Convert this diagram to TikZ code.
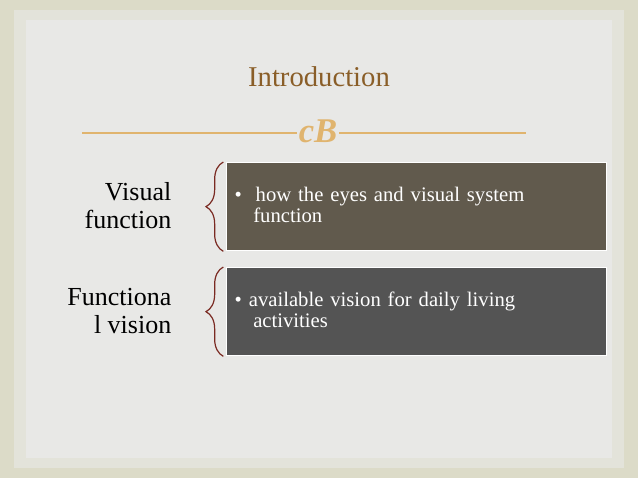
\documentclass[tikz,border=0pt]{standalone}
\usepackage{fontspec}
\setmainfont{Liberation Serif}
\usetikzlibrary{decorations.pathreplacing}
\definecolor{outer}{HTML}{DCDBC8}
\definecolor{inner}{HTML}{E8E8E6}
\definecolor{gold}{HTML}{E0B46E}
\definecolor{titlec}{HTML}{8A5E28}
\definecolor{boxa}{HTML}{615A4D}
\definecolor{boxb}{HTML}{545454}
\definecolor{brace}{HTML}{7A2A22}
\tikzset{
 cbox/.style={draw=white,line width=1pt,minimum width=380*0.75pt,minimum height=88*0.75pt,anchor=north west,inner sep=0pt},
 ctext/.style={text=white,font=\fontsize{15.5}{16}\selectfont,align=left,text width=370*0.75pt,anchor=north west},
 lab/.style={font=\fontsize{19.5}{21}\selectfont,align=right,anchor=east},
 br/.style={draw=brace,line width=0.9pt,decorate,decoration={brace,amplitude=13pt,mirror}}
}
\begin{document}
\begin{tikzpicture}[x=0.75pt,y=-0.75pt]
\useasboundingbox (0,0) rectangle (638,478);
\fill[outer] (0,0) rectangle (638,478);
\fill[inner!60!outer] (14,10) rectangle (624,468);
\fill[inner] (26,20) rectangle (612,458);
\node[text=titlec,font=\fontsize{21.5}{24}\selectfont] (title) at (319,77) {Introduction};
\coordinate (l1) at (82,133);
\coordinate (l2) at (526,133);
\draw[gold,line width=0.8pt] (l1) -- (l2);
\node[fill=inner,text=gold,font=\fontsize{26}{26}\selectfont\itshape\bfseries,inner sep=1pt] (orn) at (318,131) {cB};
\node[cbox,fill=boxa] (b1) at (226,162) {};
\node[cbox,fill=boxb] (b2) at (226,267) {};
\node[ctext] (t1) at (230,182) {•\ \ how the eyes and visual system\\\hspace*{0.9em}function};
\node[ctext] (t2) at (230,287) {• available vision for daily living\\\hspace*{0.9em}activities};
\node[lab] (v1) at (176,206) {Visual\\function};
\node[lab] (v2) at (176,311) {Functiona\\l vision};
\draw[br] ([xshift=-2]b1.north west) -- ([xshift=-2]b1.south west);
\draw[br] ([xshift=-2]b2.north west) -- ([xshift=-2]b2.south west);
\end{tikzpicture}
\end{document}
